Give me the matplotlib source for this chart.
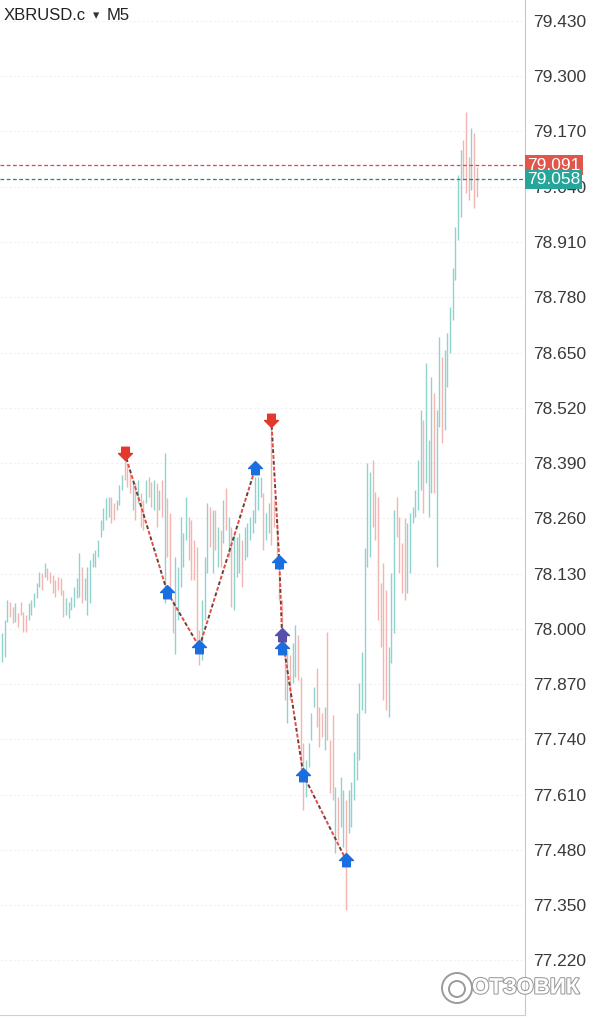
import matplotlib
matplotlib.use('Agg')
import matplotlib.pyplot as plt
import matplotlib.patheffects as pe
from matplotlib.path import Path
from matplotlib.patches import Ellipse
from matplotlib.transforms import blended_transform_factory
import numpy as np

plt.rcParams['font.family'] = ['Liberation Sans', 'DejaVu Sans']

# M5 bars: low, high, direction ('t' = up/teal, 'p' = down/pink)
lows = [77.922, 77.933, 78.016, 78.028, 78.014, 78.016, 78.004, 78.033, 77.993, 77.993,
        78.021, 78.033, 78.051, 78.072, 78.098, 78.091, 78.122, 78.115, 78.107, 78.084,
        78.075, 78.091, 78.079, 78.028, 78.033, 78.026, 78.044, 78.051, 78.072, 78.075,
        78.061, 78.068, 78.033, 78.061, 78.145, 78.145, 78.169, 78.216, 78.233, 78.256,
        78.263, 78.249, 78.256, 78.280, 78.291, 78.327, 78.350, 78.334, 78.320, 78.280,
        78.256, 78.296, 78.240, 78.233, 78.296, 78.310, 78.287, 78.280, 78.240, 78.280,
        78.263, 78.061, 78.169, 78.091, 77.990, 77.940, 78.021, 78.098, 78.145, 78.209,
        78.162, 78.115, 78.115, 77.957, 77.915, 77.926, 78.021, 78.131, 78.193, 78.131,
        78.186, 78.145, 78.145, 78.202, 78.233, 78.169, 78.051, 78.044, 78.122, 78.131,
        78.098, 78.162, 78.169, 78.209, 78.226, 78.249, 78.280, 78.310, 78.186, 78.209,
        78.226, 78.197, 78.239, 78.150, 78.068, 77.950, 77.832, 77.778, 77.832, 77.872,
        77.886, 77.879, 77.667, 77.573, 77.604, 77.675, 77.738, 77.816, 77.769, 77.722,
        77.745, 77.715, 77.738, 77.614, 77.597, 77.472, 77.503, 77.534, 77.486, 77.338,
        77.519, 77.534, 77.597, 77.644, 77.691, 77.809, 77.802, 78.145, 78.169, 78.239,
        78.209, 78.021, 77.957, 77.832, 77.809, 77.792, 77.919, 77.990, 78.216, 78.131,
        78.084, 78.068, 78.084, 78.131, 78.249, 78.263, 78.279, 78.327, 78.272, 78.343,
        78.263, 78.319, 78.319, 78.145, 78.475, 78.437, 78.468, 78.569, 78.649, 78.727,
        78.821, 78.915, 78.969, 79.056, 79.025, 79.009, 79.032, 78.990, 79.016]
highs = [77.990, 78.021, 78.068, 78.063, 78.051, 78.061, 78.037, 78.063, 78.040, 78.033,
         78.061, 78.068, 78.084, 78.107, 78.133, 78.131, 78.155, 78.143, 78.133, 78.126,
         78.115, 78.122, 78.119, 78.091, 78.072, 78.063, 78.075, 78.098, 78.119, 78.178,
         78.145, 78.119, 78.145, 78.162, 78.178, 78.186, 78.209, 78.256, 78.284, 78.308,
         78.310, 78.310, 78.296, 78.303, 78.338, 78.362, 78.404, 78.390, 78.367, 78.345,
         78.343, 78.350, 78.320, 78.303, 78.350, 78.357, 78.345, 78.350, 78.343, 78.327,
         78.350, 78.414, 78.308, 78.273, 78.068, 78.169, 78.145, 78.263, 78.226, 78.310,
         78.263, 78.256, 78.209, 78.193, 77.997, 78.068, 78.169, 78.296, 78.287, 78.280,
         78.280, 78.239, 78.233, 78.303, 78.331, 78.263, 78.239, 78.226, 78.216, 78.226,
         78.209, 78.239, 78.249, 78.263, 78.280, 78.358, 78.358, 78.358, 78.320, 78.273,
         78.296, 78.479, 78.303, 78.256, 78.174, 78.068, 77.974, 77.950, 77.938, 77.966,
         78.009, 77.985, 77.886, 77.731, 77.691, 77.731, 77.802, 77.863, 77.908, 77.816,
         77.802, 77.816, 77.992, 77.738, 77.797, 77.628, 77.604, 77.651, 77.621, 77.597,
         77.621, 77.639, 77.710, 77.802, 77.872, 77.945, 78.190, 78.390, 78.369, 78.397,
         78.322, 78.310, 78.108, 78.155, 78.091, 77.957, 78.131, 78.279, 78.310, 78.263,
         78.202, 78.261, 78.249, 78.272, 78.287, 78.327, 78.397, 78.515, 78.491, 78.625,
         78.444, 78.592, 78.555, 78.515, 78.686, 78.639, 78.656, 78.696, 78.757, 78.849,
         78.945, 79.068, 79.127, 79.150, 79.216, 79.110, 79.178, 79.166, 79.087]
dirs = list("tttpptpppp" "tttttptppp" "pppptttttt" "pttttttttt"
            "tpptttpppt" "ptpptpptpt" "ptpppttttt" "ppppptttpt"
            "ptptptpttt" "ptttttttpt" "tpppppptpt" "tpppttttpp"
            "ptppptpttp" "tttttttttp" "ppppptttpp" "ppttttttpt"
            "ttpttptttt" "tttppptpp")

price_red = 79.091
price_teal = 79.058
tick_vals = [79.430, 79.300, 79.170, 79.040, 78.910, 78.780, 78.650, 78.520, 78.390,
             78.260, 78.130, 78.000, 77.870, 77.740, 77.610, 77.480, 77.350, 77.220]

# fractal markers and zigzag
down_idx = [46, 101]
down_val = [78.414, 78.491]
up_idx = [62, 74, 95, 104, 105, 113, 129]
up_val = [78.086, 77.957, 78.378, 78.157, 77.955, 77.656, 77.456]
mix_idx = [105]
mix_val = [77.985]
zig1_idx = [46, 62, 74, 95]
zig1_val = [78.414, 78.086, 77.957, 78.378]
zig2_idx = [101, 104, 105, 113, 129]
zig2_val = [78.491, 78.157, 77.985, 77.656, 77.456]

fig = plt.figure(figsize=(5.9, 10.17), dpi=100)
ax = fig.add_axes([0, 2 / 1017, 525 / 590, 1015 / 1017])
ax.set_ylim(77.0912, 79.4794)
ax.set_xlim(-0.75, 196.1)

x = np.arange(len(lows))
cols = ['#8fd3cc' if d == 't' else '#f3b5b2' for d in dirs]
ax.vlines(x, lows, highs, colors=cols, linewidth=1.0, zorder=2)

for yv in tick_vals:
    ax.axhline(yv, color='#f0f0f0', lw=0.8, ls=(0, (2, 2)), zorder=0)

ax.axhline(price_red, color='#e0463d', lw=0.9, ls=(0, (3, 2)), zorder=3)
ax.axhline(price_teal, color='#1d8a84', lw=0.9, ls=(0, (3, 2)), zorder=3)

# zigzag: alternating red / dark dashes
for xi, yi in [(zig1_idx, zig1_val), (zig2_idx, zig2_val)]:
    ax.plot(xi, yi, color='#ea4a3f', lw=1.4, ls=(0, (2, 4)), zorder=4)
    ax.plot(xi, yi, color='#6e3b36', lw=1.4, ls=(3, (2, 4)), zorder=4)

up_arrow = Path([(-1, 0), (0, 1), (1, 0), (0.55, 0), (0.55, -0.9), (-0.55, -0.9), (-0.55, 0), (-1, 0)],
                [1, 2, 2, 2, 2, 2, 2, 79])
down_arrow = Path([(-1, 0), (0, -1), (1, 0), (0.55, 0), (0.55, 0.9), (-0.55, 0.9), (-0.55, 0), (-1, 0)],
                  [1, 2, 2, 2, 2, 2, 2, 79])
ax.plot(up_idx, up_val, ls='none', marker=up_arrow, ms=10, color='#1a6fe0', zorder=5)
ax.plot(mix_idx, mix_val, ls='none', marker=up_arrow, ms=10, color='#5a4fa8', zorder=6)
ax.plot(down_idx, down_val, ls='none', marker=down_arrow, ms=10, color='#e2392c', zorder=5)

for s in ['left', 'top']:
    ax.spines[s].set_visible(False)
ax.spines['right'].set_color('#c8c8c8')
ax.spines['bottom'].set_color('#d0d0d0')
ax.set_xticks([])
ax.yaxis.tick_right()
ax.set_yticks(tick_vals)
ax.set_yticklabels(['%.3f' % v for v in tick_vals])
ax.tick_params(axis='y', length=0, pad=6, labelsize=12.5, labelcolor='#3a3a3a')

trans = blended_transform_factory(ax.transAxes, ax.transData)
ax.text(1.004, price_red, '%.3f' % price_red, transform=trans, va='center', ha='left',
        fontsize=12.5, color='white', zorder=10,
        bbox=dict(boxstyle='square,pad=0.12', fc='#e0554c', ec='none'))
ax.text(1.004, price_teal, '%.3f' % price_teal, transform=trans, va='center', ha='left',
        fontsize=12.5, color='white', zorder=11,
        bbox=dict(boxstyle='square,pad=0.12', fc='#26a69a', ec='none'))

fig.text(4 / 590, 1 - 15 / 1017, 'XBRUSD.c', fontsize=12, color='#222222', va='center')
fig.text(93 / 590, 1 - 16 / 1017, '▾', fontsize=9, color='#333333', va='center',
         family=['DejaVu Sans'])
fig.text(107 / 590, 1 - 15 / 1017, 'M5', fontsize=12, color='#222222', va='center')

# watermark
wm = fig.text(472 / 590, 1 - 988 / 1017, 'ОТЗОВИК', fontsize=16, fontweight='bold',
              color='white', va='center', ha='left')
wm.set_path_effects([pe.Stroke(linewidth=1.5, foreground='#9a9a9a'), pe.Normal()])
cx, cy = 457 / 590, 1 - 988 / 1017
fig.patches.append(Ellipse((cx, cy), 30 / 590, 30 / 1017, transform=fig.transFigure,
                           fill=False, ec='#9a9a9a', lw=1.4))
fig.patches.append(Ellipse((cx, cy - 1 / 1017), 16 / 590, 16 / 1017, transform=fig.transFigure,
                           fill=False, ec='#9a9a9a', lw=1.4))

fig.savefig('out.png', dpi=100)
